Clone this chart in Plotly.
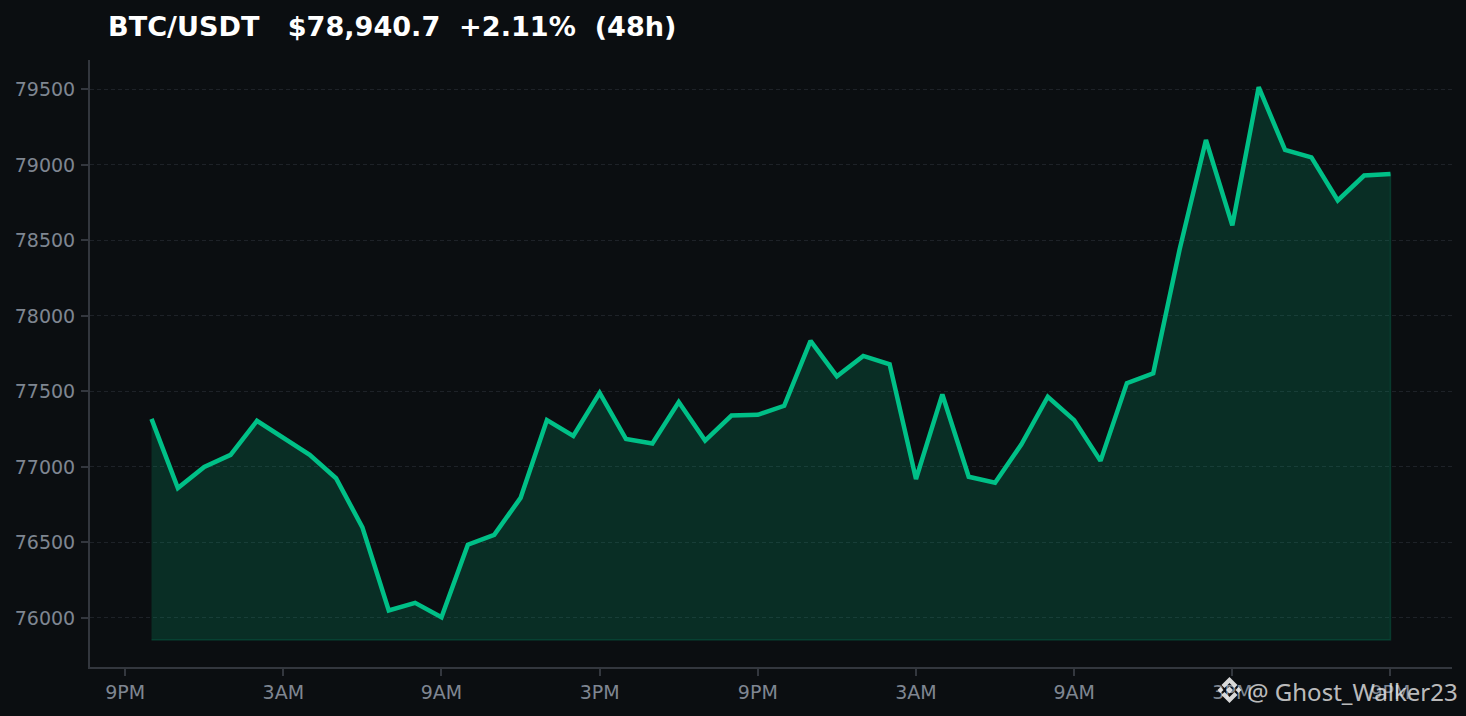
import pandas as pd
import plotly.graph_objects as go

# hourly closes
prices = [77318, 76860, 77000, 77080, 77305, 77190, 77080, 76925, 76600, 76050,
          76100, 76005, 76485, 76550, 76795, 77310, 77205, 77490, 77185, 77155,
          77430, 77175, 77340, 77345, 77405, 77835, 77600, 77735, 77680, 76920,
          77480, 76935, 76895, 77150, 77465, 77310, 77040, 77555, 77620, 78440,
          79165, 78600, 79515, 79100, 79050, 78765, 78930, 78940]
fill_base = 75854
start_time = "2025-01-01 22:00"
y_ticks = [76000, 76500, 77000, 77500, 78000, 78500, 79000, 79500]
title_text = "BTC/USDT   $78,940.7  +2.11%  (48h)"
watermark = "@ Ghost_Walker23"

BG = "#0b0e11"
GREEN = "#00c087"
AREA = "rgba(0,192,135,0.18)"
SPINE = "#33373e"
TICK_TEXT = "#7f8691"
W, H = 1466, 716
ML, MR, MT, MB = 90, 14, 60, 49

times = pd.date_range(start_time, periods=len(prices), freq="h")

fig = go.Figure()

# area under the line, closed down to the base level
fig.add_trace(go.Scatter(
    x=list(times) + list(times[::-1]),
    y=prices + [fill_base] * len(prices),
    mode="lines",
    fill="toself",
    fillcolor=AREA,
    line=dict(color=AREA, width=1.5),
    hoverinfo="skip",
))
fig.add_trace(go.Scatter(x=times, y=prices, mode="lines",
                         line=dict(color=GREEN, width=4.5)))


# binance logo, given in pixels around its centre
def px_poly(points, cx=1229.5, cy=690):
    plot_w = W - ML - MR
    plot_h = H - MT - MB
    coords = [((cx + dx - ML) / plot_w, 1 - (cy + dy - MT) / plot_h) for dx, dy in points]
    path = "M" + " L".join(f"{a:.5f},{b:.5f}" for a, b in coords) + " Z"
    return dict(type="path", xref="paper", yref="paper", path=path,
                fillcolor="rgba(240,240,240,0.9)", line=dict(width=0), layer="above")


logo = [
    px_poly([(0, -3.5), (3.5, 0), (0, 3.5), (-3.5, 0)]),
    px_poly([(-9, -3), (-6, 0), (-9, 3), (-12, 0)]),
    px_poly([(9, -3), (12, 0), (9, 3), (6, 0)]),
    px_poly([(0, -13), (8, -5), (5, -2), (0, -7), (-5, -2), (-8, -5)]),
    px_poly([(0, 13), (8, 5), (5, 2), (0, 7), (-5, 2), (-8, 5)]),
]

fig.update_layout(
    width=W, height=H,
    autosize=False,
    showlegend=False,
    paper_bgcolor=BG,
    plot_bgcolor=BG,
    margin=dict(l=ML, r=MR, t=MT, b=MB, pad=0),
    font=dict(family="DejaVu Sans", color=TICK_TEXT, size=19),
    title=dict(text=f"<b>{title_text}</b>", x=108 / W, xanchor="left",
               y=1 - 27 / H, yanchor="middle",
               font=dict(family="DejaVu Sans", size=27.1, color="#ffffff")),
    shapes=logo,
    annotations=[dict(text=watermark, xref="paper", yref="paper",
                      x=(1460 - ML) / (W - ML - MR), y=1 - (691 - MT) / (H - MT - MB),
                      xanchor="right", yanchor="middle", showarrow=False,
                      font=dict(family="Noto Sans", size=24, color="rgba(235,235,235,0.8)"))],
)
fig.update_xaxes(
    type="date",
    range=[pd.Timestamp("2025-01-01 19:40"), pd.Timestamp("2025-01-03 23:20")],
    tick0="2025-01-01 21:00", dtick=6 * 3600 * 1000, tickformat="%-I%p",
    showgrid=False, zeroline=False,
    showline=True, linecolor=SPINE, linewidth=2,
    ticks="outside", ticklen=7, tickwidth=2, tickcolor=SPINE,
    tickfont=dict(size=19, color=TICK_TEXT),
)
fig.update_yaxes(
    range=[75675, 79695],
    tickvals=y_ticks, tickformat="d",
    showgrid=True, gridcolor="#1e2228", griddash="4px,3px", gridwidth=1,
    zeroline=False,
    showline=True, linecolor=SPINE, linewidth=2,
    ticks="outside", ticklen=7, tickwidth=2, tickcolor=SPINE,
    ticklabelstandoff=2,
    tickfont=dict(size=19, color=TICK_TEXT),
)

fig.write_html("out.html", config={"displayModeBar": False},
               post_script="document.body.style.margin='0';document.body.style.background='#0b0e11';")
